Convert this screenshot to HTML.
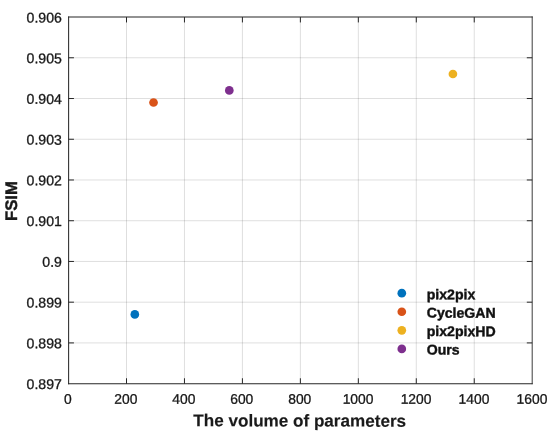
<!DOCTYPE html>
<html><head><meta charset="utf-8"><title>FSIM vs parameters</title>
<style>
html,body{margin:0;padding:0;background:#fff;}
svg{display:block;font-family:"Liberation Sans",Arial,Helvetica,sans-serif;}
.tk{font-size:14.1px;fill:#171717;stroke:#171717;stroke-width:0.3px;}
.tx{font-size:13.85px;}
.lb{font-size:17.1px;font-weight:bold;fill:#1a1a1a;stroke:#1a1a1a;stroke-width:0.15px;}
.ly{font-size:16.7px;stroke-width:0.45px;}
.lg{font-size:14.1px;font-weight:bold;fill:#111;stroke:#111;stroke-width:0.4px;}
</style></head><body>
<svg width="550" height="434" viewBox="0 0 550 434">
<rect x="0" y="0" width="550" height="434" fill="#ffffff"/>
<g stroke="#000" stroke-opacity="0.13" stroke-width="1" fill="none">
<line x1="126.51" y1="17.05" x2="126.51" y2="383.65"/>
<line x1="184.46" y1="17.05" x2="184.46" y2="383.65"/>
<line x1="242.42" y1="17.05" x2="242.42" y2="383.65"/>
<line x1="300.38" y1="17.05" x2="300.38" y2="383.65"/>
<line x1="358.33" y1="17.05" x2="358.33" y2="383.65"/>
<line x1="416.29" y1="17.05" x2="416.29" y2="383.65"/>
<line x1="474.24" y1="17.05" x2="474.24" y2="383.65"/>
<line x1="68.55" y1="342.92" x2="532.2" y2="342.92"/>
<line x1="68.55" y1="302.18" x2="532.2" y2="302.18"/>
<line x1="68.55" y1="261.45" x2="532.2" y2="261.45"/>
<line x1="68.55" y1="220.72" x2="532.2" y2="220.72"/>
<line x1="68.55" y1="179.98" x2="532.2" y2="179.98"/>
<line x1="68.55" y1="139.25" x2="532.2" y2="139.25"/>
<line x1="68.55" y1="98.52" x2="532.2" y2="98.52"/>
<line x1="68.55" y1="57.78" x2="532.2" y2="57.78"/>
</g>
<g stroke="#262626" fill="none">
<line x1="68.62" y1="16.45" x2="68.62" y2="384.2" stroke-width="1.03"/>
<line x1="68.1" y1="383.68" x2="532.65" y2="383.68" stroke-width="1.05"/>
<line x1="68.1" y1="17.0" x2="532.65" y2="17.0" stroke-width="1.1"/>
<line x1="532.2" y1="16.45" x2="532.2" y2="384.2" stroke-width="0.9"/>
</g>
<g stroke="#262626" stroke-width="1.0" fill="none">
<line x1="126.51" y1="383.65" x2="126.51" y2="378.25"/>
<line x1="126.51" y1="17.05" x2="126.51" y2="22.450000000000003"/>
<line x1="184.46" y1="383.65" x2="184.46" y2="378.25"/>
<line x1="184.46" y1="17.05" x2="184.46" y2="22.450000000000003"/>
<line x1="242.42" y1="383.65" x2="242.42" y2="378.25"/>
<line x1="242.42" y1="17.05" x2="242.42" y2="22.450000000000003"/>
<line x1="300.38" y1="383.65" x2="300.38" y2="378.25"/>
<line x1="300.38" y1="17.05" x2="300.38" y2="22.450000000000003"/>
<line x1="358.33" y1="383.65" x2="358.33" y2="378.25"/>
<line x1="358.33" y1="17.05" x2="358.33" y2="22.450000000000003"/>
<line x1="416.29" y1="383.65" x2="416.29" y2="378.25"/>
<line x1="416.29" y1="17.05" x2="416.29" y2="22.450000000000003"/>
<line x1="474.24" y1="383.65" x2="474.24" y2="378.25"/>
<line x1="474.24" y1="17.05" x2="474.24" y2="22.450000000000003"/>
<line x1="68.55" y1="342.92" x2="73.95" y2="342.92"/>
<line x1="532.2" y1="342.92" x2="526.8000000000001" y2="342.92"/>
<line x1="68.55" y1="302.18" x2="73.95" y2="302.18"/>
<line x1="532.2" y1="302.18" x2="526.8000000000001" y2="302.18"/>
<line x1="68.55" y1="261.45" x2="73.95" y2="261.45"/>
<line x1="532.2" y1="261.45" x2="526.8000000000001" y2="261.45"/>
<line x1="68.55" y1="220.72" x2="73.95" y2="220.72"/>
<line x1="532.2" y1="220.72" x2="526.8000000000001" y2="220.72"/>
<line x1="68.55" y1="179.98" x2="73.95" y2="179.98"/>
<line x1="532.2" y1="179.98" x2="526.8000000000001" y2="179.98"/>
<line x1="68.55" y1="139.25" x2="73.95" y2="139.25"/>
<line x1="532.2" y1="139.25" x2="526.8000000000001" y2="139.25"/>
<line x1="68.55" y1="98.52" x2="73.95" y2="98.52"/>
<line x1="532.2" y1="98.52" x2="526.8000000000001" y2="98.52"/>
<line x1="68.55" y1="57.78" x2="73.95" y2="57.78"/>
<line x1="532.2" y1="57.78" x2="526.8000000000001" y2="57.78"/>
</g>
<g class="tk" text-anchor="middle">
<text class="tk tx" text-anchor="middle" transform="matrix(1 0.002 0 1 67.90 403.70)">0</text>
<text class="tk tx" text-anchor="middle" transform="matrix(1 0.002 0 1 125.86 403.70)">200</text>
<text class="tk tx" text-anchor="middle" transform="matrix(1 0.002 0 1 183.81 403.70)">400</text>
<text class="tk tx" text-anchor="middle" transform="matrix(1 0.002 0 1 241.77 403.70)">600</text>
<text class="tk tx" text-anchor="middle" transform="matrix(1 0.002 0 1 299.73 403.70)">800</text>
<text class="tk tx" text-anchor="middle" transform="matrix(1 0.002 0 1 358.08 403.70)">1000</text>
<text class="tk tx" text-anchor="middle" transform="matrix(1 0.002 0 1 416.04 403.70)">1200</text>
<text class="tk tx" text-anchor="middle" transform="matrix(1 0.002 0 1 473.99 403.70)">1400</text>
<text class="tk tx" text-anchor="middle" transform="matrix(1 0.002 0 1 531.95 403.70)">1600</text>
</g>
<g class="tk" text-anchor="end">
<text class="tk" text-anchor="end" transform="matrix(1 0.002 0 1 61.90 389.05)">0.897</text>
<text class="tk" text-anchor="end" transform="matrix(1 0.002 0 1 61.90 348.32)">0.898</text>
<text class="tk" text-anchor="end" transform="matrix(1 0.002 0 1 61.90 307.58)">0.899</text>
<text class="tk" text-anchor="end" transform="matrix(1 0.002 0 1 61.90 266.85)">0.9</text>
<text class="tk" text-anchor="end" transform="matrix(1 0.002 0 1 61.90 226.12)">0.901</text>
<text class="tk" text-anchor="end" transform="matrix(1 0.002 0 1 61.90 185.38)">0.902</text>
<text class="tk" text-anchor="end" transform="matrix(1 0.002 0 1 61.90 144.65)">0.903</text>
<text class="tk" text-anchor="end" transform="matrix(1 0.002 0 1 61.90 103.92)">0.904</text>
<text class="tk" text-anchor="end" transform="matrix(1 0.002 0 1 61.90 63.18)">0.905</text>
<text class="tk" text-anchor="end" transform="matrix(1 0.002 0 1 61.90 22.45)">0.906</text>
</g>
<text class="lb" text-anchor="middle" transform="matrix(1 0.002 0 1 299.70 426.50)">The volume of parameters</text>
<text class="lb ly" text-anchor="middle" transform="matrix(0.002 -1 1 0 17.0 201.1)">FSIM</text>
<circle cx="134.82" cy="314.40" r="4.35" fill="#0072BD"/>
<circle cx="153.53" cy="102.48" r="4.35" fill="#D95319"/>
<circle cx="452.92" cy="74.00" r="4.35" fill="#EDB120"/>
<circle cx="229.30" cy="90.40" r="4.35" fill="#7E2F8E"/>
<circle cx="401.8" cy="293.15" r="4.35" fill="#0072BD"/>
<text class="lg" text-anchor="start" transform="matrix(1 0.002 0 1 426.70 299.15)">pix2pix</text>
<circle cx="401.8" cy="311.75" r="4.35" fill="#D95319"/>
<text class="lg" text-anchor="start" transform="matrix(1 0.002 0 1 426.70 317.60)">CycleGAN</text>
<circle cx="401.8" cy="330.35" r="4.35" fill="#EDB120"/>
<text class="lg" text-anchor="start" transform="matrix(1 0.002 0 1 426.70 336.05)">pix2pixHD</text>
<circle cx="401.8" cy="348.95" r="4.35" fill="#7E2F8E"/>
<text class="lg" text-anchor="start" transform="matrix(1 0.002 0 1 426.70 354.50)">Ours</text>
</svg></body></html>
